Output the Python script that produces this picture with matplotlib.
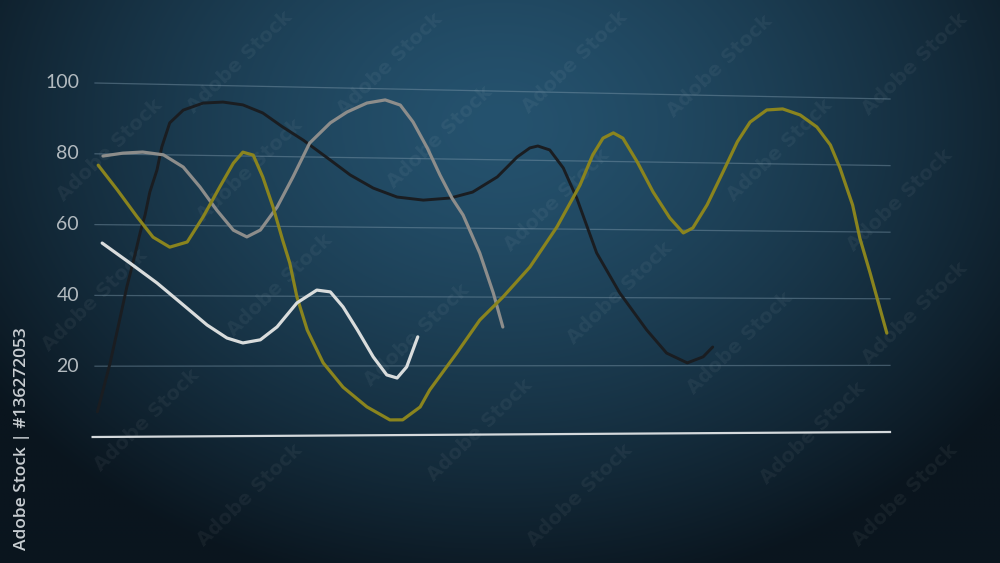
import numpy as np
import matplotlib
matplotlib.use("Agg")
import matplotlib.pyplot as plt
import matplotlib.transforms as mtransforms

# Values (x: 0-100 along the time axis, y: 0-100 scale).
y_ticks = [20, 40, 60, 80, 100]

dark_x = [0.3, 1.9, 3.1, 4.0, 4.8, 5.7, 6.3, 6.9, 7.8, 8.4, 9.4, 11.1, 13.6, 16.1, 18.6,
          21.1, 23.6, 26.2, 29.6, 32.1, 35.0, 38.0, 41.3, 44.7, 47.5, 50.6, 53.1, 54.7,
          55.7, 57.2, 58.9, 60.6, 63.1, 66.0, 69.4, 71.9, 74.5, 76.5, 77.7]
dark_y = [7.1, 20.9, 33.1, 42.4, 49.5, 58.0, 62.9, 69.4, 75.7, 82.2, 89.1, 92.8, 94.9, 95.3, 94.6,
          92.4, 88.5, 84.8, 79.2, 75.0, 71.3, 68.8, 68.0, 68.7, 70.5, 75.0, 80.9, 83.6,
          84.2, 83.1, 77.9, 69.1, 53.1, 41.4, 30.5, 23.7, 20.8, 22.6, 25.5]

gray_x = [1.0, 3.5, 6.0, 8.6, 11.1, 13.2, 15.3, 17.4, 19.1, 20.8, 22.9, 24.9, 27.0, 29.6,
          31.7, 34.2, 36.5, 38.4, 40.0, 41.8, 43.4, 44.9, 46.3, 48.4, 50.1, 51.3]
gray_y = [79.4, 80.3, 80.7, 80.0, 76.6, 71.0, 64.5, 58.8, 56.9, 58.9, 65.5, 74.2, 84.0, 89.9,
          93.1, 95.8, 96.8, 95.4, 90.6, 83.1, 75.3, 68.7, 63.8, 52.8, 41.2, 31.3]

olive_x = [0.4, 2.8, 5.3, 7.3, 9.4, 11.6, 13.6, 15.7, 17.4, 18.6, 19.9, 21.1, 22.4, 23.6,
           24.5, 25.4, 26.7, 28.7, 31.2, 34.2, 37.1, 38.7, 40.9, 42.1, 45.5, 48.4, 51.3,
           54.7, 58.1, 61.0, 62.6, 63.9, 65.2, 66.4, 68.2, 70.2, 72.3, 74.0, 75.2, 77.0,
           79.0, 80.8, 82.4, 84.5, 86.5, 88.7, 90.8, 92.5, 93.7, 95.3, 96.2, 97.5, 99.6]
olive_y = [76.8, 69.9, 62.3, 56.6, 53.8, 55.3, 62.5, 71.1, 77.9, 81.1, 80.3, 74.1, 65.5, 56.1,
           49.5, 39.8, 30.3, 20.9, 13.9, 8.2, 4.4, 4.4, 8.1, 13.0, 23.7, 33.3, 40.0,
           48.8, 60.6, 72.9, 81.8, 86.8, 88.4, 86.9, 80.0, 71.2, 63.6, 59.2, 60.7, 67.6,
           77.4, 86.4, 92.3, 96.0, 96.4, 94.7, 91.2, 85.9, 79.1, 68.0, 58.2, 47.7, 29.7]

white_x = [0.9, 4.4, 7.8, 11.1, 14.1, 16.6, 18.6, 20.8, 22.9, 25.4, 27.9, 29.6, 31.2, 33.0,
           35.0, 36.7, 38.0, 39.2, 40.6]
white_y = [54.8, 49.2, 43.6, 37.4, 31.7, 28.0, 26.6, 27.5, 31.2, 38.1, 41.8, 41.3, 37.0, 30.4,
           22.6, 17.4, 16.5, 19.7, 28.4]

W_PX, H_PX = 1000, 563
X0, PW = 95.0, 795.0      # left edge / width of plot in pixels
B0, H0 = 437.0, 354.0     # baseline (from top) / height at left edge


class Perspective(mtransforms.Transform):
    """Tilts the flat axes a little, like the chart seen at an angle."""
    input_dims = 2
    output_dims = 2

    def transform_non_affine(self, xy):
        xy = np.asarray(xy, dtype=float)
        X, Yd = xy[:, 0], xy[:, 1]
        u = (X - X0) / PW
        v = (Yd - (H_PX - B0)) / H0
        base = B0 - 5.0 * u
        hgt = H0 - 21.0 * u
        return np.column_stack([X, H_PX - (base - hgt * v)])


fig = plt.figure(figsize=(10, 5.63), dpi=100)

# background gradient
bg = fig.add_axes([0, 0, 1, 1])
bg.axis("off")
gx, gy = np.meshgrid(np.linspace(0, 1, 400), np.linspace(0, 1, 225))
r = np.sqrt(((gx - 0.50) / 0.62) ** 2 + ((gy - 0.22) / 0.85) ** 2)
r = np.clip(r, 0, 1)
c_in = np.array([0x25, 0x52, 0x6e]) / 255.0
c_out = np.array([0x0a, 0x15, 0x1e]) / 255.0
t = r[..., None] ** 1.4
img = c_in * (1 - t) + c_out * t
bg.imshow(img, extent=[0, 1, 0, 1], aspect="auto", origin="upper")
bg.set_xlim(0, 1)
bg.set_ylim(0, 1)

# watermarks
marks = [(240, 62), (390, 64), (575, 62), (720, 66), (915, 64),
         (110, 150), (250, 170), (440, 137), (557, 200), (780, 150), (900, 200),
         (280, 285), (417, 335), (620, 293), (740, 343), (915, 313), (95, 300),
         (147, 420), (480, 430), (813, 433), (250, 495), (580, 495), (905, 495)]
for mx, my in marks:
    bg.text(mx / W_PX, 1 - my / H_PX, "Adobe Stock", rotation=44, ha="center", va="center",
            fontsize=14, fontweight="bold", color="white", alpha=0.05)

ax = fig.add_axes([X0 / W_PX, (H_PX - B0) / H_PX, PW / W_PX, H0 / H_PX])
ax.set_xlim(0, 100)
ax.set_ylim(0, 100)
ax.axis("off")
ax.patch.set_visible(False)

tr = ax.transData + Perspective()

for yv in y_ticks:
    ax.plot([0, 100], [yv, yv], color="#7d98aa", lw=0.9, alpha=0.45, transform=tr, clip_on=False)
    ax.text(-2.0, yv, str(yv), transform=tr, ha="right", va="center", fontsize=14,
            color="#b2babf", family="Lato", clip_on=False)
ax.plot([-0.3, 100], [0, 0], color="#d4d9dc", lw=1.6, transform=tr, clip_on=False)

ax.plot(dark_x, dark_y, color="#1a1d21", lw=2.1, transform=tr, clip_on=False,
        solid_capstyle="round", solid_joinstyle="round")
ax.plot(gray_x, gray_y, color="#8d8d8b", lw=2.3, transform=tr, clip_on=False,
        solid_capstyle="round", solid_joinstyle="round")
ax.plot(olive_x, olive_y, color="#8a841e", lw=2.3, transform=tr, clip_on=False,
        solid_capstyle="round", solid_joinstyle="round")
ax.plot(white_x, white_y, color="#d9dcdc", lw=2.3, transform=tr, clip_on=False,
        solid_capstyle="round", solid_joinstyle="round")

fig.text(0.022, 1 - 439 / H_PX, "Adobe Stock | #136272053", rotation=90, ha="center",
         va="center", fontsize=12.5, color="#c9ced2", family="Open Sans", fontweight="semibold")

fig.savefig("out.png", dpi=100)
